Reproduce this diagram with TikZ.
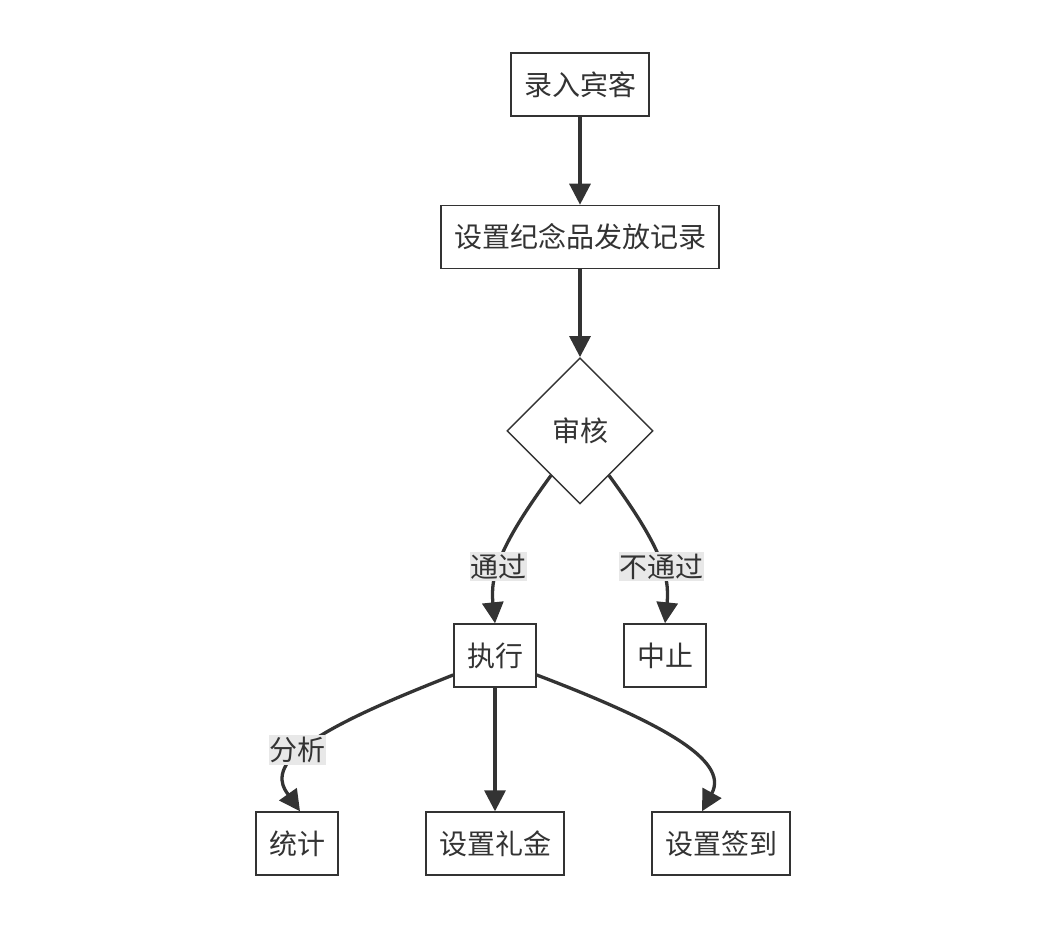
\documentclass[tikz,border=0pt]{standalone}
\usepackage{fontspec}
\usepackage{tikz}
\usetikzlibrary{arrows.meta,positioning,shapes.geometric}
\newfontfamily\cjk{Noto Sans CJK SC}
\definecolor{MInk}{HTML}{333333}
\definecolor{MLabel}{HTML}{E8E8E8}

\begin{document}
\begin{tikzpicture}[
  x=1pt,y=1pt,
  node distance=88pt,
  box/.style={draw=MInk,line width=1.4pt,fill=white,minimum height=63pt,
    inner xsep=13pt,font=\cjk\fontsize{28}{32}\selectfont,text=MInk},
  dec/.style={diamond,draw=MInk,line width=1.4pt,fill=white,aspect=1,
    minimum size=146pt,inner sep=0pt,font=\cjk\fontsize{28}{32}\selectfont,text=MInk},
  lbl/.style={fill=MLabel,inner xsep=0.5pt,inner ysep=2pt,
    font=\cjk\fontsize{28}{32}\selectfont,text=MInk},
  a/.style={-{Triangle[length=21pt,width=21pt]},line width=3.3pt,color=MInk}
]
  \useasboundingbox (0,0) rectangle (1046,-932);
  \node[box] (lr) at (580,-84.5) {录入宾客};
  \node[box,minimum width=278pt,below=of lr] (jl) {设置纪念品发放记录};
  \node[dec,below=of jl] (sh) {审核};
  \node[box] (zx) at (495,-655.5) {执行};
  \node[box] (zz) at (665,-655.5) {中止};
  \node[box] (tj) at (297,-843.5) {统计};
  \node[box] (lj) at (495,-843.5) {设置礼金};
  \node[box] (qd) at (721,-843.5) {设置签到};
  \draw[a] (lr) -- (jl);
  \draw[a] (jl) -- (sh);
  \draw[a] (sh.-123) .. controls (500,-545) and (490,-575) .. (zx.north)
    node[lbl,pos=0.57] {通过};
  \draw[a] (sh.-57) .. controls (660,-545) and (670,-575) .. (zz.north)
    node[lbl,pos=0.57] {不通过};
  \draw[a] (zx.205) .. controls (390,-700) and (330,-725) .. (297,-752)
    .. controls (272,-775) and (285,-790) .. ([xshift=3pt]tj.north);
  \node[lbl] (fx) at (297,-750) {分析};
  \draw[a] (zx) -- (lj);
  \draw[a] (zx.-25) .. controls (660,-722) and (730,-760) .. ([xshift=-19pt]qd.north);
\end{tikzpicture}
\end{document}
